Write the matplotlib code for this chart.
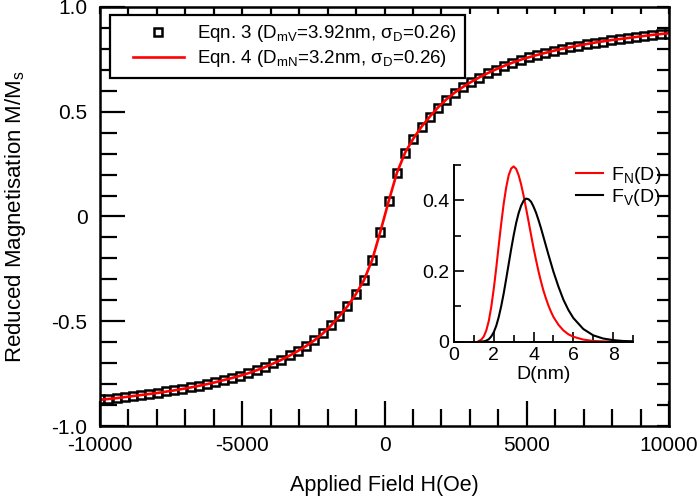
import matplotlib.pyplot as plt
from matplotlib.ticker import MultipleLocator
from matplotlib.lines import Line2D
from matplotlib.legend_handler import HandlerLine2D

plt.rcParams['font.family'] = ['Liberation Sans', 'DejaVu Sans']
plt.rcParams['mathtext.fontset'] = 'custom'
plt.rcParams['mathtext.rm'] = 'Liberation Sans'
plt.rcParams['mathtext.it'] = 'Liberation Sans'

# main curve: applied field (Oe) and reduced magnetisation
field = [-10000, -9710, -9420, -9130, -8841, -8551, -8261, -7971, -7681, -7391,
         -7101, -6812, -6522, -6232, -5942, -5652, -5362, -5072, -4783, -4493,
         -4203, -3913, -3623, -3333, -3043, -2754, -2464, -2174, -1884, -1594,
         -1304, -1014, -725, -435, -145, 145, 435, 725, 1014, 1304,
         1594, 1884, 2174, 2464, 2754, 3043, 3333, 3623, 3913, 4203,
         4493, 4783, 5072, 5362, 5652, 5942, 6232, 6522, 6812, 7101,
         7391, 7681, 7971, 8261, 8551, 8841, 9130, 9420, 9710, 10000]
m_eqn3 = [-0.873, -0.869, -0.865, -0.861, -0.856, -0.851, -0.846, -0.841, -0.835, -0.829,
          -0.822, -0.815, -0.807, -0.799, -0.790, -0.780, -0.770, -0.759, -0.747, -0.733,
          -0.718, -0.701, -0.683, -0.663, -0.641, -0.617, -0.590, -0.558, -0.520, -0.476,
          -0.428, -0.372, -0.305, -0.208, -0.072, 0.072, 0.208, 0.305, 0.372, 0.428,
          0.476, 0.520, 0.558, 0.590, 0.617, 0.641, 0.663, 0.683, 0.701, 0.718,
          0.733, 0.747, 0.759, 0.770, 0.780, 0.790, 0.799, 0.807, 0.815, 0.822,
          0.829, 0.835, 0.841, 0.846, 0.851, 0.856, 0.861, 0.865, 0.869, 0.873]
m_eqn4 = [-0.875, -0.871, -0.867, -0.862, -0.857, -0.852, -0.847, -0.842, -0.836, -0.830,
          -0.823, -0.816, -0.808, -0.800, -0.791, -0.781, -0.771, -0.760, -0.748, -0.734,
          -0.719, -0.702, -0.684, -0.664, -0.642, -0.618, -0.591, -0.559, -0.521, -0.477,
          -0.429, -0.372, -0.305, -0.208, -0.072, 0.072, 0.208, 0.305, 0.372, 0.429,
          0.477, 0.521, 0.559, 0.591, 0.618, 0.642, 0.664, 0.684, 0.702, 0.719,
          0.734, 0.748, 0.760, 0.771, 0.781, 0.791, 0.800, 0.808, 0.816, 0.823,
          0.830, 0.836, 0.842, 0.847, 0.852, 0.857, 0.862, 0.867, 0.871, 0.875]

# inset: size distributions
d_nm = [1.25, 1.375, 1.5, 1.625, 1.75, 1.875, 2.0, 2.125, 2.25, 2.375, 2.5, 2.625,
        2.75, 2.875, 3.0, 3.125, 3.25, 3.375, 3.5, 3.625, 3.75, 3.875, 4.0, 4.125,
        4.25, 4.375, 4.5, 4.625, 4.75, 4.875, 5.0, 5.25, 5.5, 5.75, 6.0, 6.5,
        7.0, 7.5, 8.0, 8.5, 9.0]
f_n = [0.002, 0.006, 0.015, 0.032, 0.059, 0.099, 0.150, 0.209, 0.273, 0.335, 0.391, 0.437,
       0.471, 0.490, 0.496, 0.489, 0.471, 0.445, 0.413, 0.377, 0.340, 0.302, 0.265, 0.231,
       0.199, 0.170, 0.144, 0.122, 0.102, 0.085, 0.070, 0.048, 0.032, 0.021, 0.014, 0.006,
       0.002, 0.001, 0.0004, 0.0001, 0.0]
f_v = [0.0, 0.0003, 0.001, 0.003, 0.007, 0.015, 0.027, 0.045, 0.070, 0.101, 0.137, 0.178,
       0.220, 0.262, 0.301, 0.336, 0.364, 0.385, 0.399, 0.405, 0.403, 0.396, 0.382, 0.365,
       0.344, 0.321, 0.296, 0.271, 0.246, 0.222, 0.198, 0.156, 0.119, 0.090, 0.067, 0.036,
       0.018, 0.009, 0.0045, 0.002, 0.001]

fig = plt.figure(figsize=(7, 4.98), dpi=100)
ax = fig.add_axes([100/700, 1-426/498, 569/700, 419/498])

ax.plot(field, m_eqn3, 's', ms=6, mfc='white', mec='black', mew=1.8,
        label='Eqn. 3 (D$_{\\mathrm{mV}}$=3.92nm, σ$_{\\mathrm{D}}$=0.26)')
ax.plot(field, m_eqn4, '-', color='#ff0000', lw=1.9,
        label='Eqn. 4 (D$_{\\mathrm{mN}}$=3.2nm, σ$_{\\mathrm{D}}$=0.26)')

ax.set_xlim(-10000, 10000)
ax.set_ylim(-1.0, 1.0)
ax.set_xticks([-10000, -5000, 0, 5000, 10000])
ax.set_xticklabels(['-10000', '-5000', '0', '5000', '10000'])
ax.xaxis.set_minor_locator(MultipleLocator(1000))
ax.set_yticks([-1.0, -0.5, 0, 0.5, 1.0])
ax.set_yticklabels(['-1.0', '-0.5', '0', '0.5', '1.0'])
ax.yaxis.set_minor_locator(MultipleLocator(0.1))
ax.tick_params(which='major', direction='in', length=18, width=1.6, labelsize=15)
ax.tick_params(axis='y', which='major', pad=9)
ax.tick_params(axis='x', which='major', pad=7)
ax.tick_params(which='minor', direction='in', length=12, width=1.6)
for s in ax.spines.values():
    s.set_linewidth(1.8)

secx = ax.secondary_xaxis('top')
secx.xaxis.set_major_locator(MultipleLocator(1000))
secx.tick_params(direction='in', length=5, width=1.6, labeltop=False)
secy = ax.secondary_yaxis('right')
secy.yaxis.set_major_locator(MultipleLocator(0.1))
secy.tick_params(direction='in', length=9, width=1.6, labelright=False)

ax.set_xlabel('Applied Field H(Oe)', fontsize=15.5)
ax.set_ylabel('Reduced Magnetisation M/M$_{\\mathrm{s}}$', fontsize=16)
ax.xaxis.set_label_coords(0.5, -0.118)
ax.yaxis.set_label_coords(-0.127, 0.5)

leg = ax.legend(loc='upper left', bbox_to_anchor=(110/700, 1-15/498),
                bbox_transform=fig.transFigure, borderaxespad=0, fancybox=False,
                edgecolor='black', fontsize=13.5, handlelength=3.5, handletextpad=0.68,
                labelspacing=0.2, borderpad=0.45, framealpha=1,
                handler_map={Line2D: HandlerLine2D(xpad=0.75)})
leg.get_frame().set_linewidth(1.6)

# inset
axi = fig.add_axes([454/700, 1-341.7/498, 179/700, 176.7/498])
axi.plot(d_nm, f_n, color='#ff0000', lw=1.5, label='F$_{\\mathrm{N}}$(D)')
axi.plot(d_nm, f_v, color='black', lw=1.5, label='F$_{\\mathrm{V}}$(D)')
axi.set_xlim(0, 9)
axi.set_ylim(0, 0.5)
axi.set_xticks([0, 2, 4, 6, 8])
axi.xaxis.set_minor_locator(MultipleLocator(1))
axi.set_yticks([0, 0.2, 0.4])
axi.set_yticklabels(['0', '0.2', '0.4'])
axi.yaxis.set_minor_locator(MultipleLocator(0.1))
axi.tick_params(which='major', direction='in', length=7, width=1.2, labelsize=14)
axi.tick_params(which='minor', direction='in', length=5, width=1.2)
axi.spines['top'].set_visible(False)
axi.spines['right'].set_visible(False)
axi.spines['left'].set_linewidth(1.4)
axi.spines['bottom'].set_linewidth(1.4)
axi.patch.set_alpha(0)
axi.set_xlabel('D(nm)', fontsize=14, labelpad=2)
axi.legend(loc='upper left', bbox_to_anchor=(568/700, 1-157/498),
           bbox_transform=fig.transFigure, frameon=False, fontsize=14,
           handlelength=1.4, handletextpad=0.4, labelspacing=0.05, borderaxespad=0)

fig.savefig('out.png', dpi=100)
